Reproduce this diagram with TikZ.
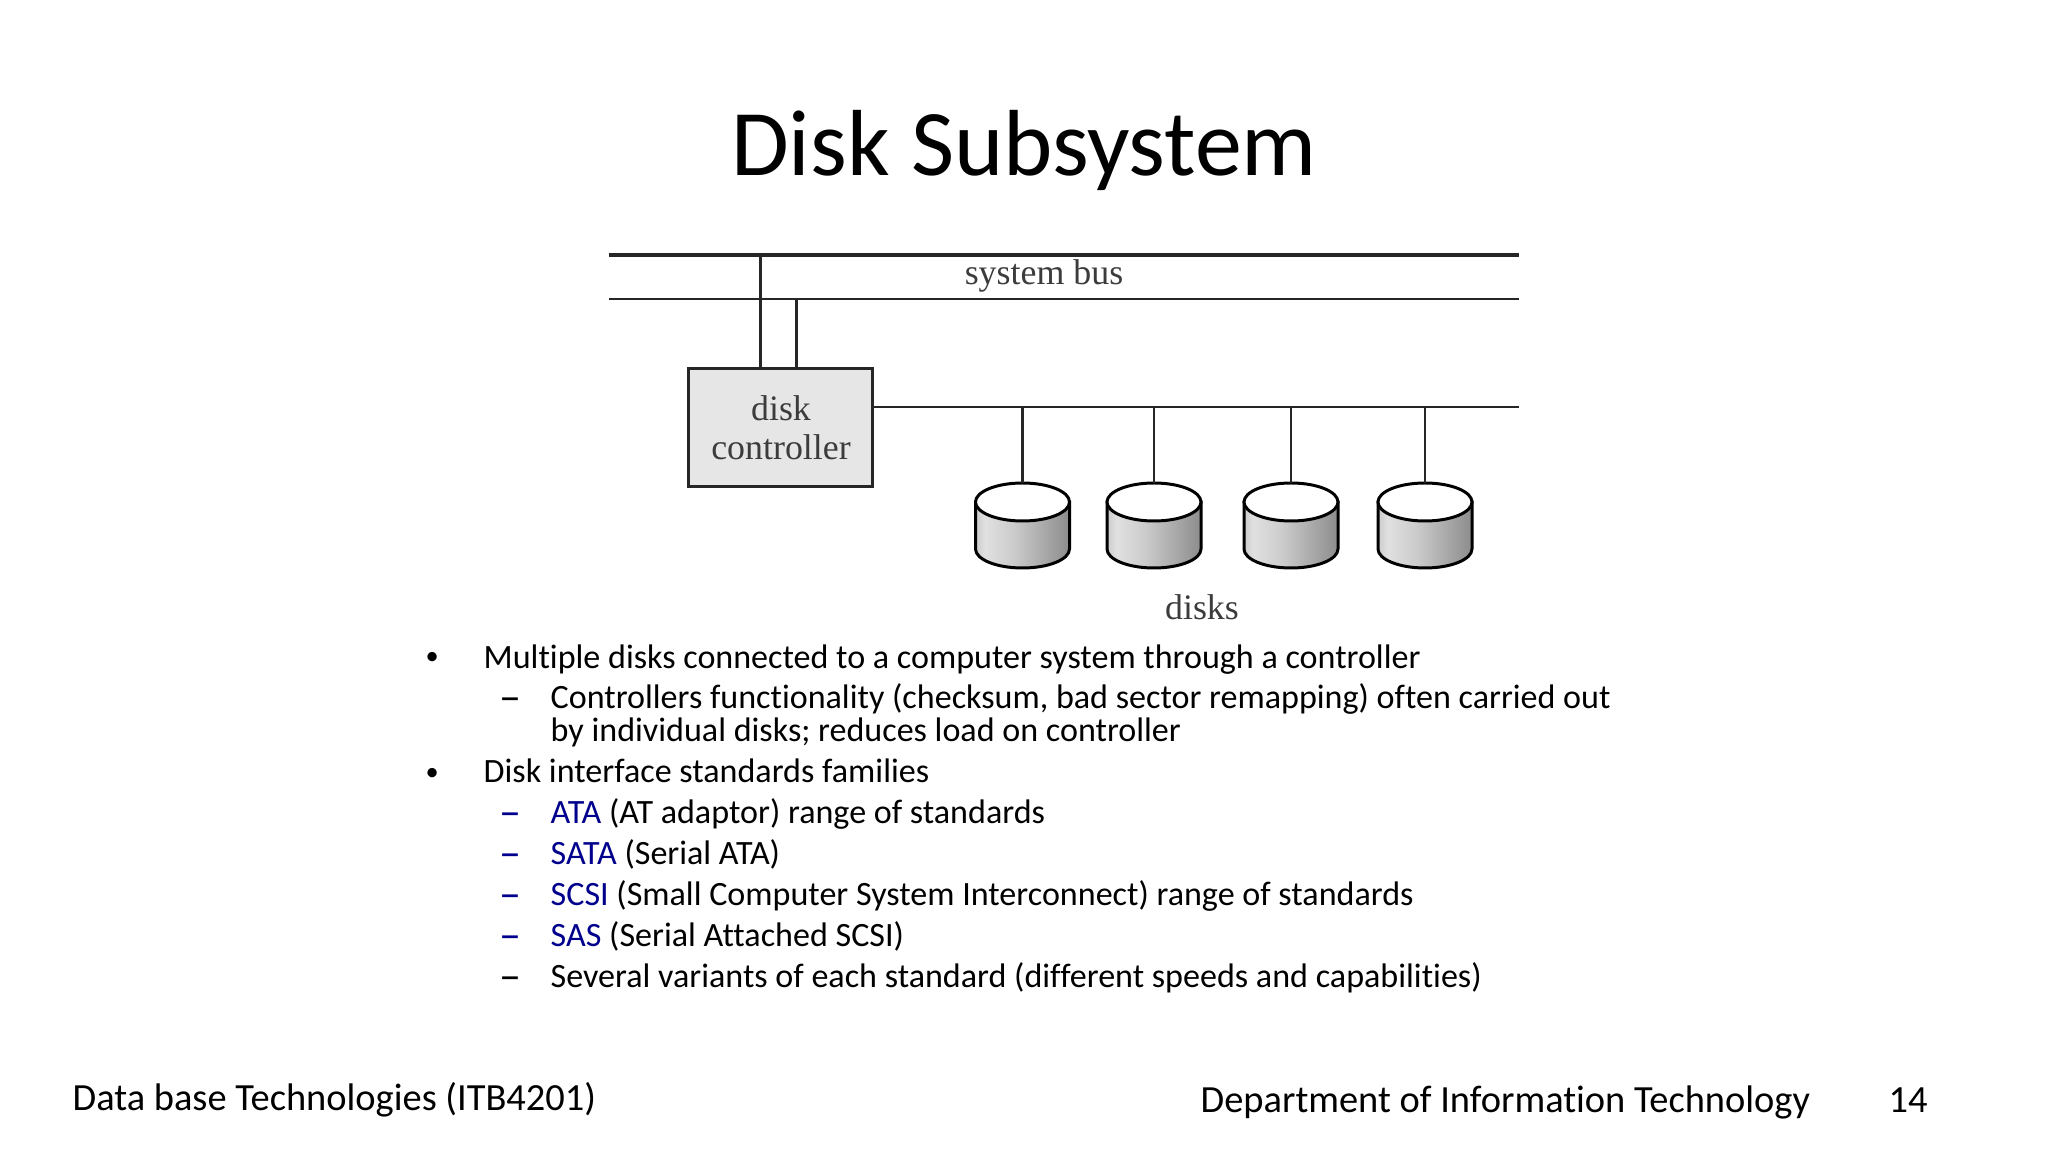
\documentclass[tikz,border=0pt]{standalone}
\usepackage{fontspec}
\setmainfont[Ligatures=NoCommon]{Carlito}
\newfontfamily\figfont{Liberation Serif}
\definecolor{boxgray}{RGB}{230, 230, 230}
\definecolor{linkblue}{RGB}{0, 0, 140}
\definecolor{figtext}{RGB}{60, 60, 60}
\pgfdeclarehorizontalshading{diskshading}{100bp}{
    color(0bp)=(black!62);
    color(30bp)=(black!12);
    color(45bp)=(black!20);
    color(75bp)=(black!45);
    color(100bp)=(black!70)
}
\newcommand{\diskunit}[2]{
    \pgfmathsetmacro{\dx}{#2}
    \draw[disk, shading=diskshading] (\dx-47, 502) -- (\dx-47, 549) arc (180:0:47 and 19)
    -- (\dx+47, 502) -- cycle;
    \draw[disk, fill=white] (\dx, 502) ellipse (47 and 19);
    \coordinate (#1) at (\dx, 483);
}

\begin{document}
\begin{tikzpicture}[
        x=0.01cm, y=-0.01cm,
        bus/.style={line width=1pt,draw=black!85},
        buslow/.style={line width=0.85pt,draw=black!85},
        link/.style={line width=0.6pt,draw=black!85},
        disk/.style={line width=0.85pt,draw=black},
        figlabel/.style={font=\figfont\fontsize{10.2}{11}\selectfont,color=figtext,inner sep=0pt},
        first/.style={anchor=base west,inner sep=0pt,font=\fontsize{9.69}{11}\selectfont},
        second/.style={anchor=base west,inner sep=0pt,font=\fontsize{9.69}{11}\selectfont},
        itemdash/.style={anchor=base west,inner sep=0pt,font=\fontsize{12.5}{11}\selectfont},
        itemdot/.style={anchor=base west,inner sep=0pt,font=\fontsize{7.5}{11}\selectfont},
        footer/.style={anchor=base west,inner sep=0pt,font=\fontsize{10.93}{13}\selectfont}
    ]
    \useasboundingbox (0, 0) rectangle (2048, 1152);
    \node[inner sep=0pt,anchor=base,font=\fontsize{26.7}{30}\selectfont] (title) at (1024, 176) {Disk Subsystem};

    % bus and controller
    \coordinate (busTopL) at (608.5, 255);
    \coordinate (busTopR) at (1519, 255);
    \coordinate (busLowL) at (608.5, 299);
    \coordinate (busLowR) at (1519, 299);
    \coordinate (ctrlEnd) at (1519, 407.3);
    \draw[bus] (busTopL) -- (busTopR);
    \draw[buslow] (busLowL) -- (busLowR);
    \node[figlabel] (buslabel) at (1044, 276) {system bus};
    \node[draw=black!85,line width=0.8pt,fill=boxgray,minimum width=1.835cm,minimum height=1.18cm,inner sep=0pt,
        align=center] (ctrl) at (780.7, 427.7) {};
    \node[figlabel] (ctrlA) at (781, 408) {disk};
    \node[figlabel] (ctrlB) at (781, 447) {controller};
    \coordinate (ctrlUpA) at (760.5, 368.7);
    \coordinate (ctrlUpB) at (796.5, 368.7);
    \draw[link] (ctrlUpA) -- (ctrlUpA |- busTopL);
    \draw[link] (ctrlUpB) -- (ctrlUpB |- busLowL);
    \draw[link] (ctrl.east |- ctrlEnd) -- (ctrlEnd);

    % disks
    \diskunit{diskA}{1022.5}
    \diskunit{diskB}{1154}
    \diskunit{diskC}{1291}
    \diskunit{diskD}{1425}
    \foreach \d in {diskA,diskB,diskC,diskD}
        \draw[link] (\d) -- (\d |- ctrlEnd);
    \node[figlabel] (disklabel) at (1202, 607) {disks};

    % text
    \node[itemdot] (b1) at (425, 665) {•};
    \node[first] (t1) at (483, 668) {Multiple disks connected to a computer system through a controller};
    \node[itemdash] (d2) at (499, 711) {–};
    \node[second] (t2) at (550, 708) {Controllers functionality (checksum, bad sector remapping) often carried out};
    \node[second] (t3) at (550, 741) {by individual disks; reduces load on controller};
    \node[itemdot] (b4) at (425, 780) {•};
    \node[first] (t4) at (483, 782) {Disk interface standards families};
    \node[itemdash,color=linkblue] (d5) at (499, 826) {–};
    \node[second] (t5) at (550, 823) {\textcolor{linkblue}{ATA} (AT adaptor) range of standards};
    \node[itemdash,color=linkblue] (d6) at (499, 867) {–};
    \node[second] (t6) at (550, 864) {\textcolor{linkblue}{SATA} (Serial ATA)};
    \node[itemdash,color=linkblue] (d7) at (499, 908) {–};
    \node[second] (t7) at (550, 905) {\textcolor{linkblue}{SCSI} (Small Computer System Interconnect) range of standards};
    \node[itemdash,color=linkblue] (d8) at (499, 949) {–};
    \node[second] (t8) at (550, 946) {\textcolor{linkblue}{SAS} (Serial Attached SCSI)};
    \node[itemdash] (d9) at (499, 990) {–};
    \node[second] (t9) at (550, 987) {Several variants of each standard (different speeds and capabilities)};

    % footer
    \node[footer] (fleft) at (72, 1110) {Data base Technologies (ITB4201)};
    \node[footer] (fright) at (1200, 1112) {Department of Information Technology};
    \node[footer] (fnum) at (1888, 1112) {14};
\end{tikzpicture}
\end{document}
